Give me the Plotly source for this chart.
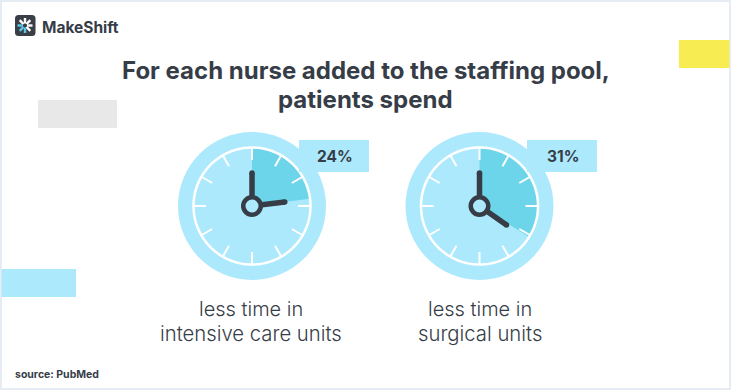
import numpy as np
import plotly.graph_objects as go

W, H = 731, 390
FONT = "Inter"
DARK = "#363D47"
SKY = "#ADE9FD"
TEAL = "#6DD5EA"

captions = ["less time in<br>intensive care units", "less time in<br>surgical units"]
percents = [24, 31]
wedge_degrees = [83, 122]
hour_hand_degrees = [83, 125]
minute_hand_degrees = [0, 0]
clock_centers_x = [252, 479.5]
clock_center_y = 206
caption_x = [251.5, 479.5]
badge_left = [299, 527]
tick_degrees = list(range(0, 360, 30))
logo_spokes_white = [0, 45, 90, 135, 315]
logo_spokes_blue = [180, 225, 270]

R_OUT, R_RING, R_T0, HAND = 74, 58.5, 46, 33


def px_x(v):
    return v / W


def px_y(v):
    return 1 - v / H


fig = go.Figure()
polar_layout = {}
ring_theta = np.linspace(0, 360, 181)
for i, cx in enumerate(clock_centers_x):
    name = "polar" if i == 0 else f"polar{i + 1}"
    polar_layout[name] = dict(
        domain=dict(
            x=[px_x(cx - R_OUT), px_x(cx + R_OUT)],
            y=[px_y(clock_center_y + R_OUT), px_y(clock_center_y - R_OUT)],
        ),
        bgcolor=SKY,
        radialaxis=dict(visible=False, range=[0, R_OUT]),
        angularaxis=dict(visible=False, rotation=90, direction="clockwise"),
    )
    fig.add_trace(go.Barpolar(
        r=[R_RING], theta=[wedge_degrees[i] / 2], width=[wedge_degrees[i]],
        marker=dict(color=TEAL, line=dict(width=0)), subplot=name, hoverinfo="skip",
    ))
    fig.add_trace(go.Scatterpolar(
        r=[R_RING] * len(ring_theta), theta=ring_theta, mode="lines",
        line=dict(color="white", width=2.5), subplot=name, hoverinfo="skip",
    ))
    for t in tick_degrees:
        fig.add_trace(go.Scatterpolar(
            r=[R_T0, R_RING], theta=[t, t], mode="lines",
            line=dict(color="white", width=2), subplot=name, hoverinfo="skip",
        ))
    for ang in (minute_hand_degrees[i], hour_hand_degrees[i]):
        fig.add_trace(go.Scatterpolar(
            r=[0, HAND], theta=[ang, ang], mode="lines",
            line=dict(color=DARK, width=5.5), subplot=name, hoverinfo="skip",
        ))
        fig.add_trace(go.Scatterpolar(
            r=[HAND], theta=[ang], mode="markers",
            marker=dict(color=DARK, size=5.5, line=dict(width=0)),
            subplot=name, hoverinfo="skip",
        ))
    fig.add_trace(go.Scatterpolar(
        r=[0], theta=[0], mode="markers",
        marker=dict(color=SKY, size=17.5, line=dict(color=DARK, width=4.5)),
        subplot=name, hoverinfo="skip",
    ))


def rect(x0, y0, x1, y1, color, layer="below"):
    return dict(type="rect", xref="paper", yref="paper",
                x0=px_x(x0), x1=px_x(x1), y0=px_y(y0), y1=px_y(y1),
                fillcolor=color, line=dict(width=0), layer=layer)


def rounded(x0, y0, x1, y1, r, color):
    X, Y = px_x, px_y
    path = (
        f"M {X(x0 + r)} {Y(y0)} L {X(x1 - r)} {Y(y0)} Q {X(x1)} {Y(y0)} {X(x1)} {Y(y0 + r)} "
        f"L {X(x1)} {Y(y1 - r)} Q {X(x1)} {Y(y1)} {X(x1 - r)} {Y(y1)} "
        f"L {X(x0 + r)} {Y(y1)} Q {X(x0)} {Y(y1)} {X(x0)} {Y(y1 - r)} "
        f"L {X(x0)} {Y(y0 + r)} Q {X(x0)} {Y(y0)} {X(x0 + r)} {Y(y0)} Z"
    )
    return dict(type="path", xref="paper", yref="paper", path=path,
                fillcolor=color, line=dict(width=0), layer="below")


def spoke(deg, color):
    a = np.radians(deg)
    cx, cy = 25, 25.5
    return dict(type="line", xref="paper", yref="paper",
                x0=px_x(cx + 2 * np.sin(a)), y0=px_y(cy - 2 * np.cos(a)),
                x1=px_x(cx + 7.5 * np.sin(a)), y1=px_y(cy - 7.5 * np.cos(a)),
                line=dict(color=color, width=2.4), layer="above")


BORDER = "#E6ECF4"
shapes = [
    rect(0, 0, W, 2, BORDER),
    rect(0, 388, W, H, BORDER),
    rect(0, 0, 2, H, BORDER),
    rect(729, 0, W, H, BORDER),
    rect(679, 40, 729.5, 68, "#F7EC52"),
    rect(38, 100, 117, 128, "#E8E8E8"),
    rect(1.5, 269, 76, 297, SKY),
    rounded(15, 15, 35.5, 36, 3.5, "#3A3F47"),
]
shapes += [spoke(d, "white") for d in logo_spokes_white]
shapes += [spoke(d, "#5CC8E8") for d in logo_spokes_blue]
for left in badge_left:
    shapes.append(rect(left, 140, left + 70, 172, SKY, "above"))

annotations = []


def text(x, y, s, size, weight=400, color=DARK, anchor="center"):
    annotations.append(dict(
        x=px_x(x), y=px_y(y), xref="paper", yref="paper", text=s, showarrow=False,
        xanchor=anchor, yanchor="middle", align="center" if anchor == "center" else "left",
        font=dict(family=FONT, size=size, color=color, weight=weight),
    ))


text(39.5, 27.5, "MakeShift", 15.5, 700, anchor="left")
text(365.5, 70, "For each nurse added to the staffing pool,", 24, 700)
text(365.5, 100, "patients spend", 24, 700)
for i, p in enumerate(percents):
    text(badge_left[i] + 35.5, 156, f"{p}%", 15.5, 700)
    a, b = captions[i].split("<br>")
    text(caption_x[i], 309, a, 20, 300)
    text(caption_x[i], 333, b, 20.3, 300)
text(13, 374, "source: PubMed", 10.5, 700, anchor="left")

fig.update_layout(
    width=W, height=H, margin=dict(l=0, r=0, t=0, b=0),
    paper_bgcolor="white", plot_bgcolor="white", showlegend=False,
    shapes=shapes, annotations=annotations, **polar_layout,
)
fig.write_html(
    "out.html",
    config={"displayModeBar": False},
    post_script="document.body.style.margin='0';document.body.style.overflow='hidden';",
)
